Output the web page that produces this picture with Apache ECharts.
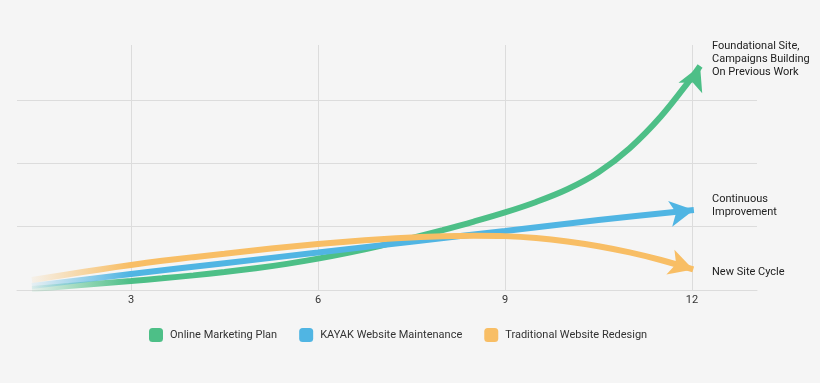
<!DOCTYPE html>
<html>
<head>
<meta charset="utf-8">
<script src="https://cdn.jsdelivr.net/npm/echarts@6/dist/echarts.min.js"></script>
<style>
html,body{margin:0;padding:0;background:#f5f5f5;}
#c{width:820px;height:383px;}
</style>
</head>
<body>
<div id="c"></div>
<script>
// ---- data ----
var seriesNames = ['Online Marketing Plan', 'KAYAK Website Maintenance', 'Traditional Website Redesign'];
var xTicks = [3, 6, 9, 12];
var yLines = [1, 2, 3];
var endLabels = ['Foundational Site,\nCampaigns Building\nOn Previous Work', 'Continuous\nImprovement', 'New Site Cycle'];

var onlineMarketing = [
  [1.41, 0.016], [2, 0.063], [2.5, 0.103], [3, 0.142], [3.5, 0.185], [4, 0.231], [4.5, 0.283],
  [5, 0.343], [5.5, 0.413], [6, 0.495], [6.5, 0.590], [7, 0.698], [7.5, 0.818], [8, 0.946],
  [8.5, 1.081], [9, 1.226], [9.5, 1.391], [10, 1.591], [10.5, 1.860], [11, 2.240],
  [11.5, 2.740], [12, 3.360], [12.13, 3.537]
];
var kayakMaintenance = [
  [1.41, 0.063], [3, 0.253], [4.5, 0.423], [6, 0.592], [7.5, 0.763], [9, 0.932],
  [10.5, 1.105], [12.03, 1.263]
];
var traditionalRedesign = [
  [1.41, 0.158], [2, 0.249], [2.5, 0.325], [3, 0.396], [3.5, 0.461], [4, 0.519], [4.5, 0.573],
  [5, 0.628], [5.5, 0.679], [6, 0.725], [6.5, 0.766], [7, 0.801], [7.5, 0.829], [8, 0.849],
  [8.5, 0.857], [9, 0.851], [9.5, 0.821], [10, 0.767], [10.5, 0.692], [11, 0.594],
  [11.5, 0.474], [12.02, 0.324]
];

// ---- styles ----
var colors = ['#4dbf87', '#50b5e3', '#f8be65'];
var arrowRotate = [-24, -81, -108];
var labelTops = [39.5, 192.5, 265.5];
var FONT = 'Roboto, "Noto Sans", sans-serif';

function rgba(hex, a) {
  var n = parseInt(hex.slice(1), 16);
  return 'rgba(' + (n >> 16) + ',' + ((n >> 8) & 255) + ',' + (n & 255) + ',' + a + ')';
}
function grad(c) {
  return new echarts.graphic.LinearGradient(0, 0, 1, 0, [
    {offset: 0, color: rgba(c, 0.06)},
    {offset: 0.15, color: rgba(c, 1)},
    {offset: 1, color: rgba(c, 1)}
  ]);
}

var allData = [onlineMarketing, kayakMaintenance, traditionalRedesign];
var series = [];

series.push({
  type: 'line', name: 'gridlines', data: [], silent: true,
  markLine: {
    silent: true, symbol: 'none', z: 0, animation: false,
    label: {show: false},
    lineStyle: {color: '#dcdcdc', width: 1, type: 'solid'},
    data: xTicks.map(function (v) { return {xAxis: v}; })
      .concat(yLines.map(function (v) { return {yAxis: v}; }))
  }
});

allData.forEach(function (d, i) {
  series.push({
    type: 'line', name: seriesNames[i], data: d, smooth: 0.35, symbol: 'none',
    z: 3 + i, silent: true,
    lineStyle: {width: 6, color: grad(colors[i]), cap: 'butt'},
    itemStyle: {color: colors[i]}
  });
});

series.push({
  type: 'scatter', name: 'arrows', silent: true, z: 10,
  data: allData.map(function (d, i) {
    return {
      value: d[d.length - 1],
      symbol: 'arrow',
      symbolSize: [19.5, 24],
      symbolRotate: arrowRotate[i],
      itemStyle: {color: colors[i], opacity: 1}
    };
  })
});

var chart = echarts.init(document.getElementById('c'), null, {renderer: 'canvas'});
chart.setOption({
  backgroundColor: '#f5f5f5',
  animation: false,
  grid: {left: 17, right: 63, top: 45, bottom: 93, containLabel: false},
  xAxis: {
    type: 'value', min: 1.171, max: 13.043,
    axisLine: {show: true, lineStyle: {color: '#dcdcdc', width: 1}},
    axisTick: {show: false},
    splitLine: {show: false},
    axisLabel: {
      customValues: xTicks, margin: 5,
      color: '#333', fontSize: 11, fontFamily: FONT
    }
  },
  yAxis: {
    type: 'value', min: 0, max: 3.87, show: false,
    splitLine: {show: false}
  },
  legend: {
    data: seriesNames,
    left: 144, top: 323,
    icon: 'roundRect',
    itemWidth: 14, itemHeight: 14, itemGap: 22,
    textStyle: {color: '#333', fontSize: 11, fontFamily: FONT, padding: [0, 0, 0, 2]}
  },
  graphic: endLabels.map(function (t, i) {
    return {
      type: 'text', left: 712, top: labelTops[i], silent: true,
      style: {text: t, fill: '#222', fontSize: 11, fontFamily: FONT, lineHeight: 13}
    };
  }),
  series: series
});
</script>
</body>
</html>
